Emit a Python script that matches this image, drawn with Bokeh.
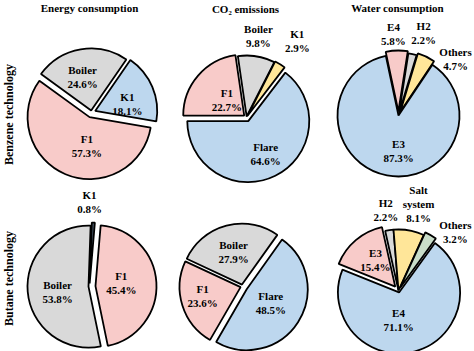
import numpy as np
from bokeh.plotting import figure
from bokeh.models import Range1d, ColumnDataSource
from bokeh.core.properties import value
from bokeh.embed import file_html
from bokeh.resources import INLINE

W, H = 474, 351

# ---------------- data ----------------
column_titles = ["Energy consumption", "CO\u2082 emissions", "Water consumption"]
row_titles = ["Benzene technology", "Butane technology"]

energy_benzene_labels = ["Boiler", "K1", "F1"]
energy_benzene_values = [24.6, 18.1, 57.3]
co2_benzene_labels = ["Boiler", "K1", "Flare", "F1"]
co2_benzene_values = [9.8, 2.9, 64.6, 22.7]
water_benzene_labels = ["E4", "H2", "Others", "E3"]
water_benzene_values = [5.8, 2.2, 4.7, 87.3]
energy_butane_labels = ["K1", "F1", "Boiler"]
energy_butane_values = [0.8, 45.4, 53.8]
co2_butane_labels = ["Boiler", "Flare", "F1"]
co2_butane_values = [27.9, 48.5, 23.6]
water_butane_labels = ["H2", "Salt system", "Others", "E4", "E3"]
water_butane_values = [2.2, 8.1, 3.2, 71.1, 15.4]

# ---------------- styles ----------------
PINK = "#F8CBC9"
GRAY = "#D9D9D9"
BLUE = "#BDD7EE"
YELLOW = "#FFE699"
SAGE = "#C9DDC9"
SLATE = "#4B5A6B"

FONT = value("Liberation Serif")

pies = [
    dict(labels=energy_benzene_labels, values=energy_benzene_values,
         colors=[GRAY, BLUE, PINK], center=(91, 112), r=62, start=144,
         explode=[2, 4, 5], lab_r=[37, 37, 34], lab_a=[104, 14, -98]),
    dict(labels=co2_benzene_labels, values=co2_benzene_values,
         colors=[GRAY, YELLOW, BLUE, PINK], center=(246, 117), r=61, start=98.3,
         explode=[1, 2, 4, 3], lab_r=[82, 92, 41, 26], lab_a=[81.6, 56.5, -62, 139]),
    dict(labels=water_benzene_labels, values=water_benzene_values,
         colors=[PINK, GRAY, YELLOW, BLUE], center=(398, 115), r=61, start=102,
         explode=[4, 2, 4, 0], lab_r=[82, 86, 80, 35], lab_a=[93.5, 73, 44.5, -90]),
    dict(labels=energy_butane_labels, values=energy_butane_values,
         colors=[SLATE, PINK, GRAY], center=(89, 286), r=61, start=88,
         explode=[3, 6, 1], lab_r=[85, 32, 32.5], lab_a=[90, 7, 190.6]),
    dict(labels=co2_butane_labels, values=co2_butane_values,
         colors=[GRAY, BLUE, PINK], center=(242, 286), r=61, start=155,
         explode=[2, 5, 2], lab_r=[36, 33, 41], lab_a=[104.4, -31, 194]),
    dict(labels=water_butane_labels, values=water_butane_values,
         colors=[GRAY, YELLOW, SAGE, BLUE, PINK], center=(398, 290), r=61, start=102.6,
         explode=[0, 0, 3, 2, 5], lab_r=[81, 89, 82, 29, 38.6], lab_a=[99, 77, 46, -90, 126.6]),
]

p = figure(width=W, height=H, x_range=Range1d(0, W), y_range=Range1d(0, H),
           output_backend="svg", toolbar_location=None,
           x_axis_type=None, y_axis_type=None, min_border=0)
p.grid.visible = False
p.outline_line_color = None
p.background_fill_color = "white"
p.border_fill_color = "white"

LINE_H = 14

for pie in pies:
    cx, cy_s = pie["center"]
    cy = H - cy_s
    vals = np.array(pie["values"], dtype=float)
    frac = vals / vals.sum()
    ends = np.cumsum(frac)
    begins = ends - frac
    a0 = pie["start"] - begins * 360.0   # clockwise
    a1 = pie["start"] - ends * 360.0
    mid = np.radians((a0 + a1) / 2.0)
    ex = np.array(pie["explode"], dtype=float)
    src = ColumnDataSource(dict(
        x=cx + ex * np.cos(mid), y=cy + ex * np.sin(mid),
        start=np.radians(a1), end=np.radians(a0),
        color=pie["colors"]))
    p.wedge(x="x", y="y", radius=pie["r"], start_angle="start", end_angle="end",
            direction="anticlock", fill_color="color", line_color="black",
            line_width=1.8, source=src)

    # labels
    tx, ty, tt = [], [], []
    for lab, v, lr, la in zip(pie["labels"], pie["values"], pie["lab_r"], pie["lab_a"]):
        lines = lab.split(" ") + ["%.1f%%" % v]
        x0 = cx + lr * np.cos(np.radians(la))
        y0 = cy + lr * np.sin(np.radians(la))
        n = len(lines)
        for i, s in enumerate(lines):
            tx.append(x0)
            ty.append(y0 + (n - 1) / 2.0 * LINE_H - i * LINE_H)
            tt.append(s)
    p.text(x=tx, y=ty, text=tt, text_font=FONT, text_font_style="bold",
           text_font_size="11px", text_align="center", text_baseline="middle",
           text_color="black")

# column titles
p.text(x=[89, 245, 397], y=[H - 7, H - 8, H - 7], text=column_titles, text_font=FONT,
       text_font_style="bold", text_font_size="11px", text_align="center",
       text_baseline="middle", text_color="black")

# row titles
p.text(x=[8, 8], y=[H - 114, H - 278], text=row_titles, angle=np.pi / 2,
       text_font=FONT, text_font_style="bold", text_font_size="12px",
       text_align="center", text_baseline="middle", text_color="black")

open("out.html", "w").write(file_html(p, INLINE))
